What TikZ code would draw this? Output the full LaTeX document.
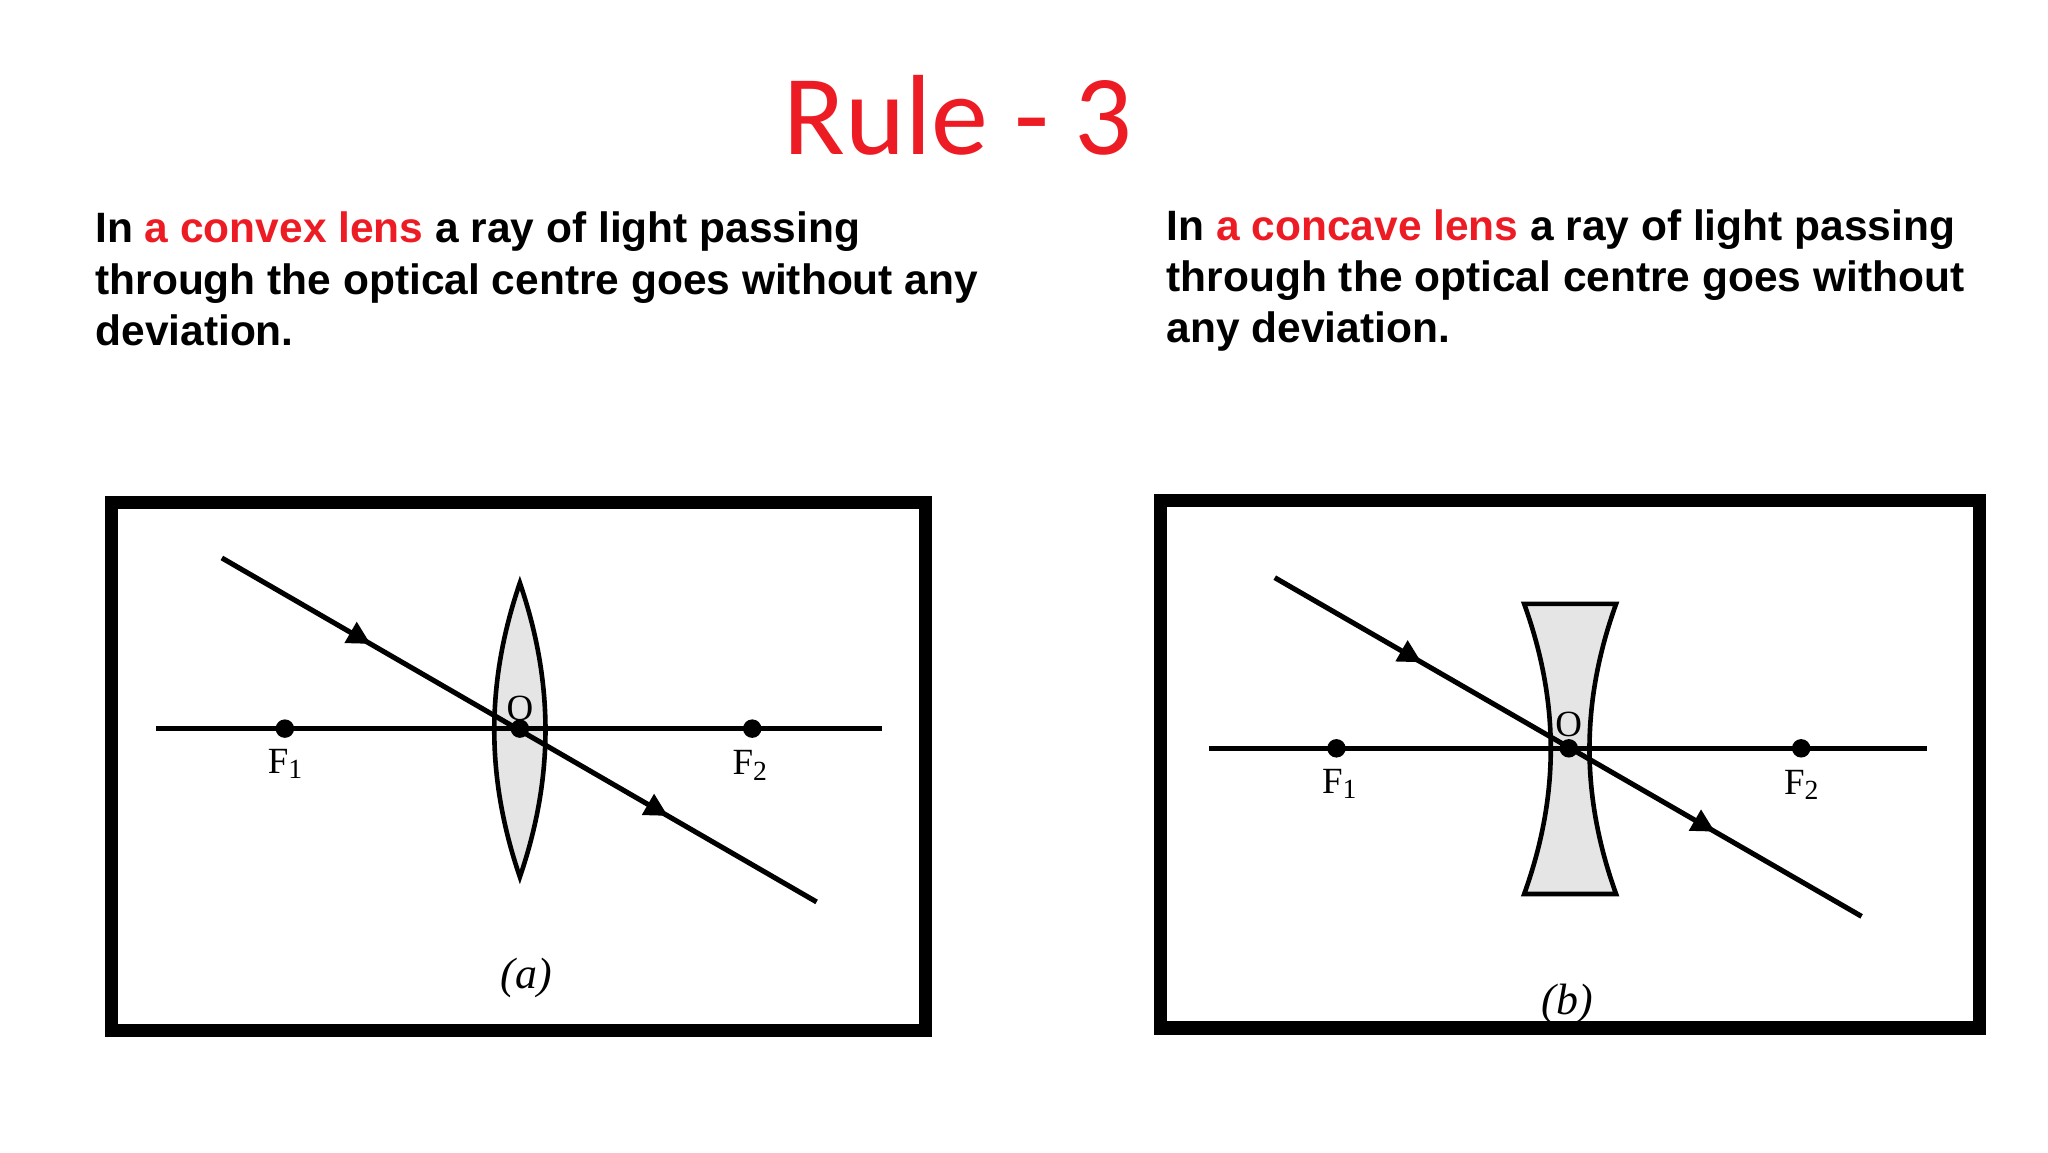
\documentclass[tikz,border=0pt]{standalone}
\usepackage{fontspec}
\setmainfont{Liberation Sans}
\newfontfamily\titlefont{Carlito}
\newfontfamily\figfont{Liberation Serif}
\usetikzlibrary{decorations.markings,arrows.meta}
\definecolor{rred}{RGB}{237,28,36}
\begin{document}
\begin{tikzpicture}[x=0.01cm,y=-0.01cm,
  frame/.style={line width=10*0.01cm},
  axis/.style={line width=1.1pt},
  ray/.style={line width=1.1pt,postaction={decorate},decoration={markings,
     mark=at position 0.25 with {\arrow{Triangle[length=5pt,width=5pt]}},
     mark=at position 0.75 with {\arrow{Triangle[length=5pt,width=5pt]}}}},
  lens/.style={draw,line width=1pt,fill=gray!20},
  dotn/.style={circle,fill,inner sep=0pt,minimum size=4pt},
  body/.style={anchor=base west,inner sep=0pt,font=\bfseries\fontsize{9.2}{11}\selectfont},
  lbl/.style={font=\figfont\fontsize{8}{9}\selectfont,inner sep=0pt},
  figcap/.style={font=\figfont\itshape\fontsize{9.5}{10}\selectfont,inner sep=0pt}]
\useasboundingbox (0,0) rectangle (1560,878);
\node[font=\titlefont\fontsize{24.7}{26}\selectfont,text=rred,anchor=base] (title) at (730,118) {Rule - 3};
% left text
\node[body] (l1) at (72,185) {In \textcolor{rred}{a convex lens} a ray of light passing};
\node[body] (l2) at (72,224) {through the optical centre goes without any};
\node[body] (l3) at (72,263) {deviation.};
\node[body] (r1) at (888,183) {In \textcolor{rred}{a concave lens} a ray of light passing};
\node[body] (r2) at (888,222) {through the optical centre goes without};
\node[body] (r3) at (888,261) {any deviation.};
% frames
\draw[frame] (85,383) rectangle (705,785);
\draw[frame] (884,381) rectangle (1508,783);
% left diagram
\draw[lens] (396,444) .. controls (370,520) and (370,592) .. (396,668) .. controls (422,592) and (422,520) .. (396,444) -- cycle;
\coordinate (a1) at (119,555); \coordinate (a2) at (672,555);
\draw[axis] (a1) -- (a2);
\coordinate (ra) at (169,425); \coordinate (rb) at (622,687);
\draw[ray] (ra) -- (rb);
\node[dotn] (F1a) at (217,555) {};
\node[dotn] (F2a) at (573,555) {};
\node[dotn] (Oa) at (396,555) {};
\node[lbl] at (218,582) {F\textsubscript{1}};
\node[lbl] at (572,583) {F\textsubscript{2}};
\node[lbl] at (396,540) {O};
\node[figcap] at (401,745) {(a)};
% right diagram
\draw[lens] (1161,460) -- (1231,460) .. controls (1204,535) and (1204,606) .. (1231,681) -- (1161,681) .. controls (1188,606) and (1188,535) .. (1161,460) -- cycle;
\coordinate (b1) at (921,570); \coordinate (b2) at (1468,570);
\draw[axis] (b1) -- (b2);
\coordinate (rc) at (971,440); \coordinate (rd) at (1418,698);
\draw[ray] (rc) -- (rd);
\node[dotn] (F1b) at (1018,570) {};
\node[dotn] (F2b) at (1372,570) {};
\node[dotn] (Ob) at (1195,570) {};
\node[lbl] at (1021,597) {F\textsubscript{1}};
\node[lbl] at (1373,598) {F\textsubscript{2}};
\node[lbl] at (1195,552) {O};
\node[figcap] at (1194,765) {(b)};
\end{tikzpicture}
\end{document}
